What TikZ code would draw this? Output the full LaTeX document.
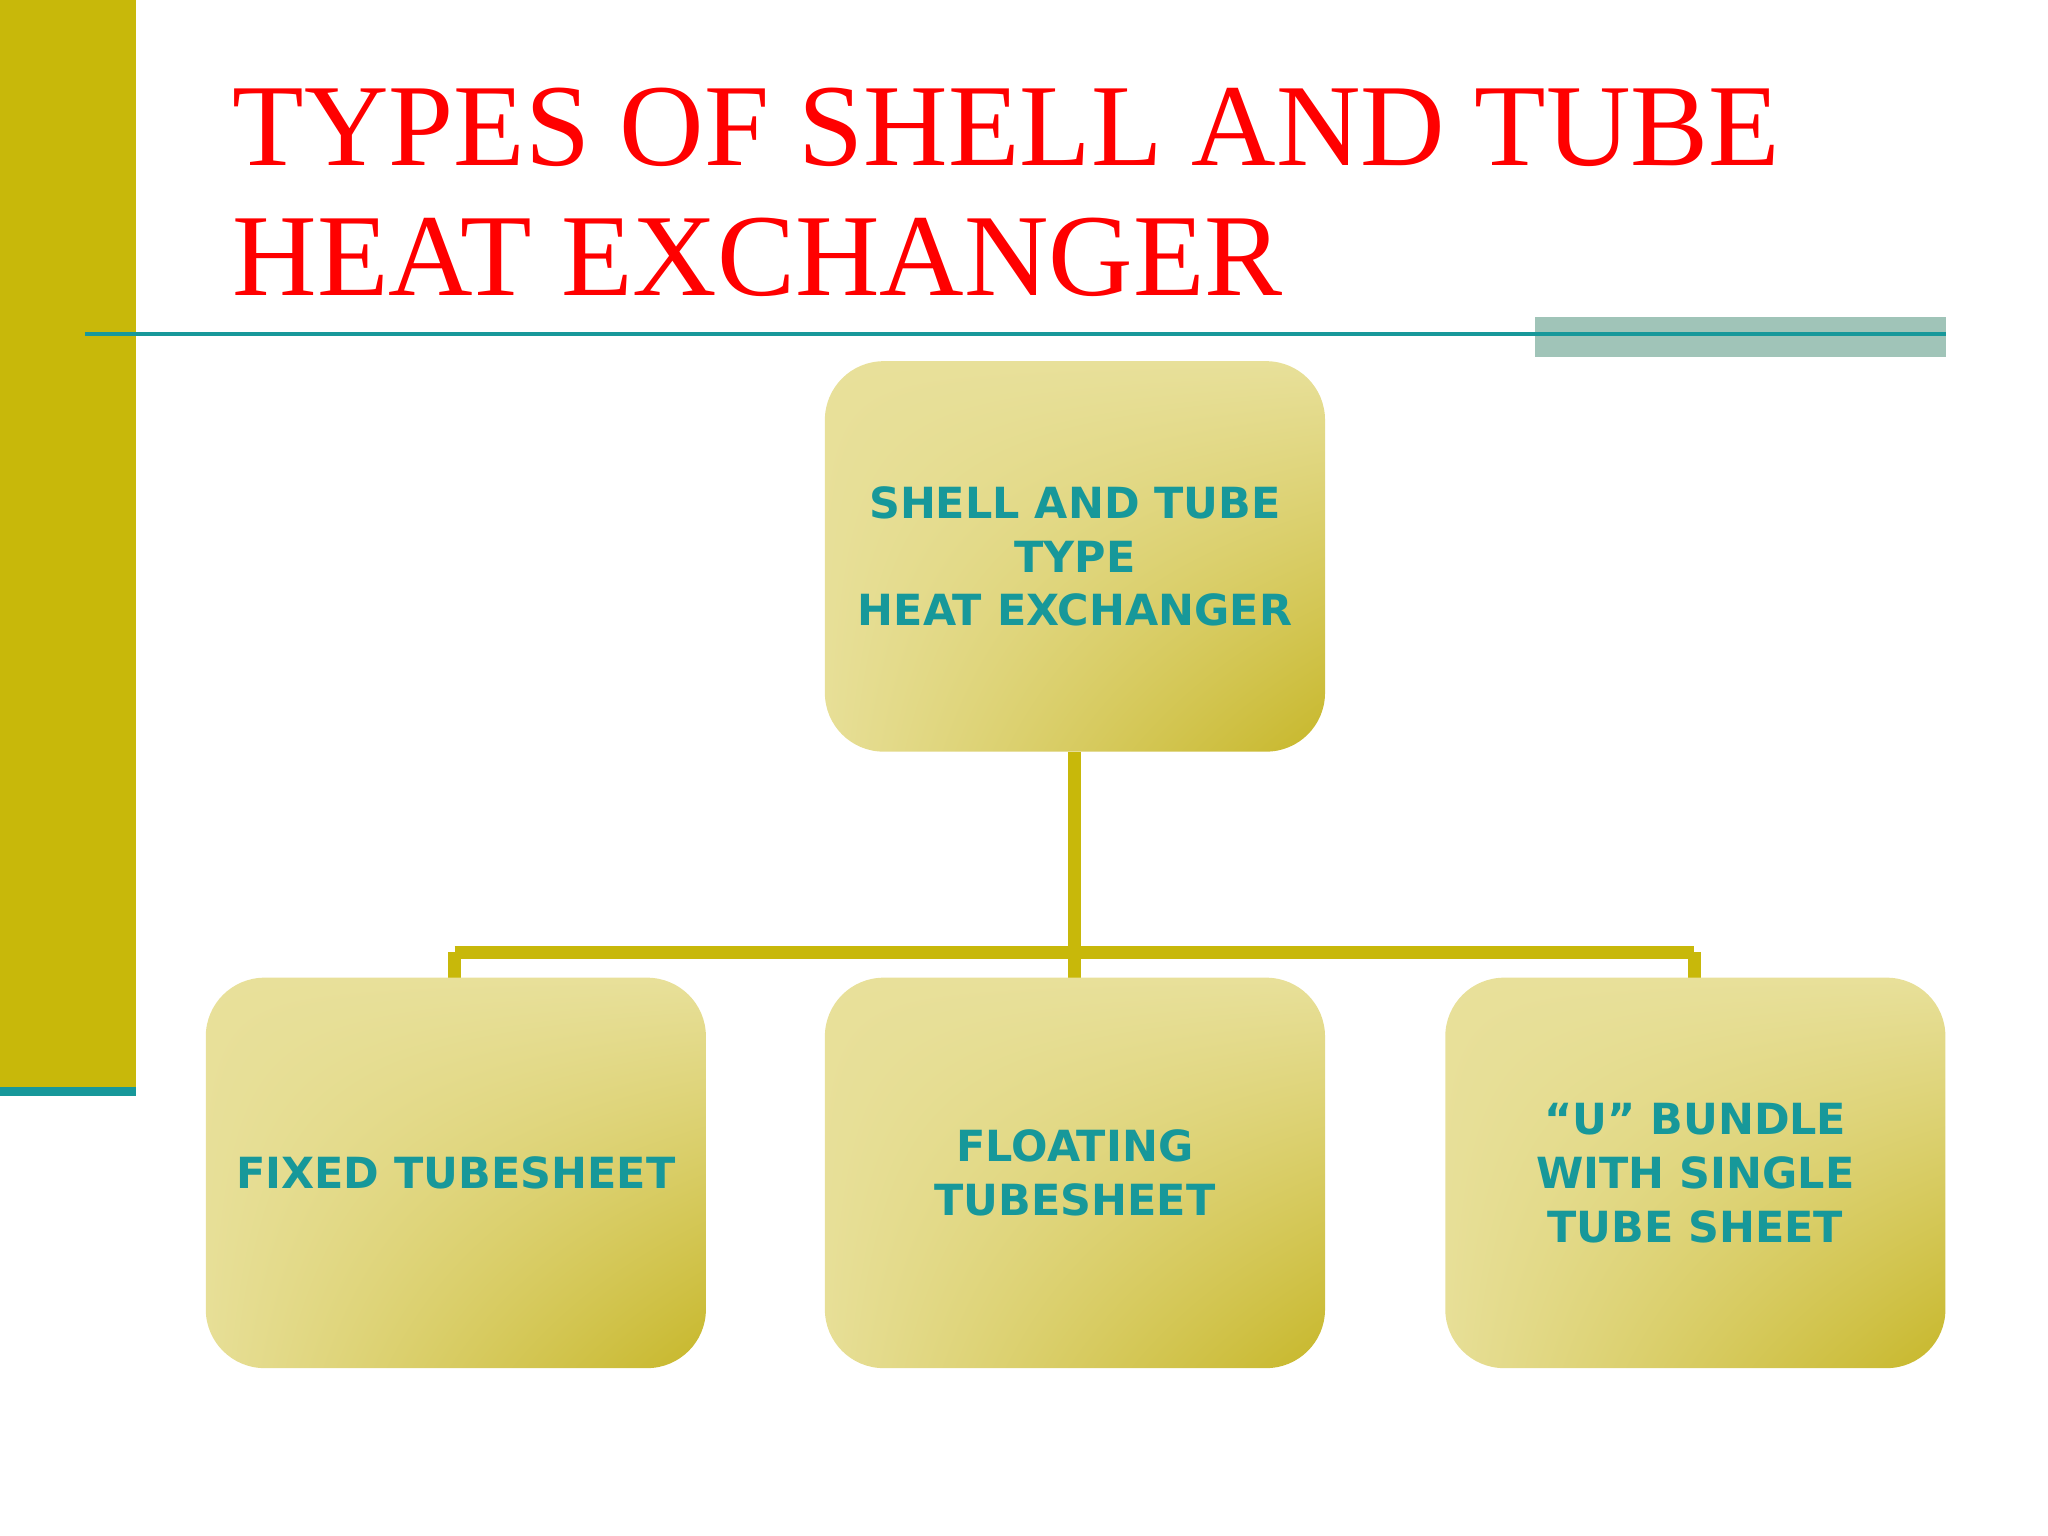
\documentclass[tikz,border=0pt]{standalone}
\usetikzlibrary{shadings}
\usepackage{fontspec}
\setmainfont{Liberation Serif}
\newfontfamily\boxfont{DejaVu Sans}
\definecolor{olive}{HTML}{C8B80A}
\definecolor{teal2}{HTML}{17989A}
\definecolor{light}{HTML}{E8E09A}
\definecolor{dark}{HTML}{C7B72A}
\definecolor{gray2}{HTML}{A0C4B8}
\tikzset{
 box/.style={rounded corners=0.9cm, minimum width=7.66cm, minimum height=5.98cm,
  upper left=light, upper right=light, lower left=light!97!dark, lower right=dark,
  font=\boxfont\bfseries\fontsize{18.7}{23.5}\selectfont, text=teal2, align=center, inner sep=0pt},
 conn/.style={draw=olive, line width=0.2cm}
}
\begin{document}
\begin{tikzpicture}[x=0.02cm,y=-0.02cm]
\useasboundingbox (0,0) rectangle (1568,1176);
\fill[olive] (0,0) rectangle (104,832);
\fill[teal2] (0,832) rectangle (104,839);
\fill[gray2] (1175,243) rectangle (1490,273);
\draw[teal2, line width=0.06cm] (65,256) -- (1490,256);
\node[anchor=base west, text=red, font=\fontsize{51}{56}\selectfont] (t1) at (172,127) {TYPES OF SHELL AND TUBE};
\node[anchor=base west, text=red, font=\fontsize{51}{56}\selectfont] (t2) at (172,226) {HEAT EXCHANGER};
\coordinate (jm) at (823,729);
\coordinate (jl) at (348,729);
\coordinate (jr) at (1297,729);
\node[box, shade] (top) at (823,426) {SHELL AND TUBE\\TYPE\\HEAT EXCHANGER};
\draw[conn] (top.south) -- (jm);
\draw[conn] (jl) -- (jr);
\draw[conn] (jl) -- (348,749);
\draw[conn] (jr) -- (1297,749);
\draw[conn] (jm) -- (823,749);
\node[box, shade] (b1) at (349,898) {FIXED TUBESHEET};
\node[box, shade] (b2) at (823,898) {FLOATING\\TUBESHEET};
\node[box, shade] (b3) at (1298,898) {“U” BUNDLE\\WITH SINGLE\\TUBE SHEET};
\end{tikzpicture}
\end{document}
